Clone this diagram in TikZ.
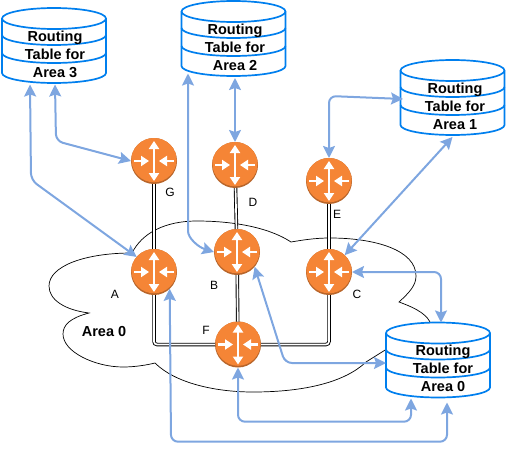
\documentclass[tikz,border=0pt]{standalone}
\usepackage{fontspec}
\setmainfont{Liberation Sans}
\usetikzlibrary{arrows.meta}

\definecolor{tableblue}{HTML}{007FEE}
\definecolor{linkblue}{HTML}{7EA6E0}
\definecolor{routerorange}{HTML}{F58536}
\definecolor{routerdark}{HTML}{B8652A}

\tikzset{
  tablebox/.style={inner sep=0pt,outer sep=0pt,minimum width=104pt,minimum height=75pt},
  tableline/.style={draw=tableblue,line width=1.7pt},
  tabletext/.style={inner sep=0pt,align=center,font=\fontsize{14.5}{18}\selectfont\bfseries},
  routerbody/.style={circle,inner sep=0pt,outer sep=0pt,minimum size=46pt,fill=routerdark,
    path picture={\fill[routerorange] ([yshift=1.3pt]path picture bounding box.center) circle (22.6pt);}},
  routerarrow/.style={white,line width=2.8pt,{Triangle[width=10pt,length=8pt]}-{Triangle[width=10pt,length=8pt]}},
  routerhalf/.style={white,line width=2.8pt,-{Triangle[width=10pt,length=8pt]}},
  routertag/.style={inner sep=0pt,font=\fontsize{12}{14}\selectfont},
  arealink/.style={draw=black,line width=.9pt,double=white,double distance=1.7pt,rounded corners=3pt},
  tablelink/.style={draw=linkblue,line width=2pt,rounded corners=7pt,
    {Stealth[length=12pt,width=12pt,inset=2pt]}-{Stealth[length=12pt,width=12pt,inset=2pt]}},
}

\newcommand{\routingtable}[5]{
  \node[tablebox] (#1) at (#2,#3) {};
  \draw[tableline,fill=white] ([yshift=-10.5pt]#1.north west) -- ([yshift=10pt]#1.south west)
    arc[start angle=180,end angle=360,x radius=52pt,y radius=10pt]
    -- ([yshift=-10.5pt]#1.north east)
    arc[start angle=0,end angle=180,x radius=52pt,y radius=10.5pt];
  \draw[tableline] ([yshift=-10.5pt]#1.north west) arc[start angle=180,end angle=360,x radius=52pt,y radius=10.5pt];
  \draw[tableline] ([yshift=-27pt]#1.north west) arc[start angle=180,end angle=360,x radius=52pt,y radius=10pt];
  \draw[tableline] ([yshift=-45pt]#1.north west) arc[start angle=180,end angle=360,x radius=52pt,y radius=10pt];
  \node[tabletext] (#1text) at ([xshift=#5,yshift=-8.5pt]#1.center) {Routing\\Table for\\#4};
}
\newcommand{\router}[3]{
  \node[routerbody] (#1) at (#2,#3) {};
  \draw[routerarrow] ([yshift=20pt]#1.center) -- ([yshift=-20pt]#1.center);
  \draw[routerhalf] ([xshift=-20pt]#1.center) -- ([xshift=-5pt]#1.center);
  \draw[routerhalf] ([xshift=20pt]#1.center) -- ([xshift=5pt]#1.center);
}

\begin{document}
\begin{tikzpicture}[x=1pt,y=-1pt]
  \useasboundingbox (0,0) rectangle (506,452);

  % cloud
  \draw[black,line width=.7pt] (132,253) .. controls (85,253) and (49,266) .. (49,286)
    .. controls (49,300) and (65,310) .. (89,313)
    .. controls (70,318) and (63,325) .. (63,334)
    .. controls (63,352) and (95,367) .. (123,367)
    .. controls (135,367) and (147,365) .. (155,363)
    .. controls (175,383) and (215,392) .. (253,392)
    .. controls (305,392) and (345,382) .. (366,362)
    -- (430,322)
    .. controls (425,312) and (410,306) .. (399,302)
    .. controls (410,292) and (416,285) .. (416,276)
    .. controls (416,250) and (375,238) .. (330,238)
    .. controls (315,238) and (303,240) .. (291,242)
    .. controls (265,225) and (225,221) .. (197,221)
    .. controls (165,221) and (142,233) .. (132,253);
  \node[inner sep=0pt,font=\fontsize{14.5}{16}\selectfont\bfseries] (area) at (104,332) {Area 0};

  % tables
  \routingtable{tthree}{54}{45.5}{Area 3}{1pt}
  \routingtable{ttwo}{233.5}{38.5}{Area 2}{1.5pt}
  \routingtable{tone}{452.5}{97.5}{Area 1}{2.5pt}
  \routingtable{tzero}{438}{360}{Area 0}{5pt}

  % routers
  \router{g}{154}{161}
  \router{d}{235}{165}
  \router{e}{329}{181}
  \router{a}{154}{272}
  \router{b}{237}{252}
  \router{f}{238}{344.5}
  \router{c}{329}{272}

  \node[routertag] (gtag) at (170,192) {G};
  \node[routertag] (dtag) at (253,202) {D};
  \node[routertag] (etag) at (337,214) {E};
  \node[routertag] (atag) at (115,294) {A};
  \node[routertag] (btag) at (214,285) {B};
  \node[routertag] (ftag) at (206,330) {F};
  \node[routertag] (ctag) at (357,294) {C};

  % links inside the area
  \draw[arealink] (g) -- (a);
  \draw[arealink] (d) -- (b);
  \draw[arealink] (e) -- (c);
  \draw[arealink] (b) -- (f);
  \draw[arealink] (a.south) -- (154,344.5) -- (f.west);
  \draw[arealink] (c.south) -- (329,344.5) -- (f.east);

  % links to the tables
  \draw[tablelink] ([xshift=-24pt,yshift=-1.5pt]tthree.south) -- (31,180) -- (a.139);
  \draw[tablelink] ([xshift=1pt,yshift=-1.5pt]tthree.south) -- (56,141) -- (g.west);
  \draw[tablelink] ([xshift=-45.5pt,yshift=2.5pt]ttwo.south) -- (188,224)
    .. controls (188,238) and (198,247) .. (b.west);
  \draw[tablelink] ([xshift=1.5pt,yshift=-2pt]ttwo.south) -- (d.north);
  \draw[tablelink] (e.north) -- (329,96) -- ([xshift=2.5pt,yshift=-1.5pt]tone.west);
  \draw[tablelink] ([yshift=-2pt]tone.south) -- (c.47);
  \draw[tablelink] (c.east) -- (441,272) -- ([xshift=3pt,yshift=0pt]tzero.north);
  \draw[tablelink] (b.-40) -- (285,363) -- ([yshift=-3pt]tzero.west);
  \draw[tablelink] (f.south) -- (238,421.7) -- (411,421.7) -- ([xshift=-27pt,yshift=-1pt]tzero.south);
  \draw[tablelink] (a.313) -- (171,441.7) -- (447,441.7) -- ([xshift=9pt,yshift=-5pt]tzero.south);
\end{tikzpicture}
\end{document}
